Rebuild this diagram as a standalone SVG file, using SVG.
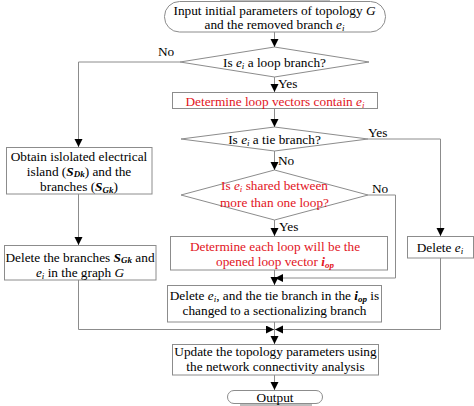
<svg xmlns="http://www.w3.org/2000/svg" width="474" height="406" viewBox="0 0 474 406">
<defs>
<marker id="ah" markerUnits="userSpaceOnUse" markerWidth="9" markerHeight="9" refX="8" refY="4" orient="auto">
<path d="M0,0 L8,4 L0,8 z" fill="#000"/>
</marker>
<style>
.s{fill:#fff;stroke:#8c8c8c;stroke-width:1}
.c{fill:none;stroke:#8c8c8c;stroke-width:1;marker-end:url(#ah)}
text{font-family:"Liberation Serif","Times New Roman",serif;font-size:13.3px;fill:#000;text-anchor:middle}
.r{fill:#e2141c}
.lab{text-anchor:start}
.it{font-style:italic}
.bi{font-style:italic;font-weight:bold}
.sb{font-size:9px}
</style>
</defs>
<rect width="474" height="406" fill="#fff"/>
<g id="start">
<rect x="220" y="0" width="110" height="2" fill="#bdbdbd"/>
<rect class="s" x="164.5" y="1.5" width="221" height="30.5" rx="15"/>
<text x="274.5" y="14.5">Input initial parameters of topology <tspan class="it">G</tspan></text>
<text x="274.5" y="29">and the removed branch <tspan class="it">e</tspan><tspan class="it sb" dy="2">i</tspan></text>
</g>
<g id="d1">
<polygon class="s" points="180,62 274.5,47 369,62 274.5,77"/>
<text x="274.5" y="66.5">Is <tspan class="it">e</tspan><tspan class="it sb" dy="2">i</tspan><tspan dy="-2"> a loop branch?</tspan></text>
</g>
<g id="b1">
<rect class="s" x="172.5" y="92.5" width="205" height="16"/>
<text class="r" x="275" y="105.5">Determine loop vectors  contain <tspan class="it">e</tspan><tspan class="it sb" dy="2">i</tspan></text>
</g>
<g id="d2">
<polygon class="s" points="181,139 274.5,127 368,139 274.5,151"/>
<text x="274.5" y="143.5">Is <tspan class="it">e</tspan><tspan class="it sb" dy="2">i</tspan><tspan dy="-2"> a tie branch?</tspan></text>
</g>
<g id="d3">
<polygon class="s" points="181,195 274.5,170 368,195 274.5,220"/>
<text class="r" x="274.5" y="190">Is <tspan class="it">e</tspan><tspan class="it sb" dy="1.5">i</tspan><tspan dy="-1.5"> shared between</tspan></text>
<text class="r" x="274.5" y="206.5">more than one loop?</text>
</g>
<g id="b2">
<rect class="s" x="170.5" y="236.5" width="217" height="33.5"/>
<text class="r" x="275" y="250.5">Determine each loop will be the</text>
<text class="r" x="275" y="266">opened loop vector <tspan class="bi">i</tspan><tspan class="bi sb" dy="2">op</tspan></text>
</g>
<g id="del">
<rect class="s" x="407.5" y="236.5" width="66" height="21.5"/>
<text x="440" y="251.5">Delete <tspan class="it">e</tspan><tspan class="it sb" dy="2">i</tspan></text>
</g>
<g id="b3">
<rect class="s" x="167.5" y="285.5" width="214" height="36.5"/>
<text x="274.5" y="299.5">Delete <tspan class="it">e</tspan><tspan class="it sb" dy="2">i</tspan><tspan dy="-2">, and the tie branch in the </tspan><tspan class="bi">i</tspan><tspan class="bi sb" dy="2">op</tspan><tspan dy="-2"> is</tspan></text>
<text x="274.5" y="315">changed to a sectionalizing branch</text>
</g>
<g id="b4">
<rect class="s" x="172.5" y="344.5" width="206" height="30.5"/>
<text x="275.5" y="356">Update the topology parameters using</text>
<text x="275.5" y="371">the network connectivity analysis</text>
</g>
<g id="out">
<rect x="240" y="403" width="72" height="3" fill="#bdbdbd"/>
<rect class="s" x="227.5" y="390.5" width="95" height="13" rx="6.5"/>
<text x="275" y="401.5">Output</text>
</g>
<g id="l1">
<rect class="s" x="6.5" y="147.5" width="145.5" height="46.5"/>
<text x="79" y="160.5">Obtain islolated electrical</text>
<text x="79" y="175.5">island (<tspan class="bi">S</tspan><tspan class="bi sb" dy="1.5">Dk</tspan><tspan dy="-1.5">) and the</tspan></text>
<text x="79" y="191">branches  (<tspan class="bi">S</tspan><tspan class="bi sb" dy="1.5">Gk</tspan><tspan dy="-1.5">)</tspan></text>
</g>
<g id="l2">
<rect class="s" x="4.5" y="245.5" width="151.5" height="34.5"/>
<text x="80" y="261.5">Delete the branches <tspan class="bi">S</tspan><tspan class="bi sb" dy="1.5">Gk</tspan><tspan dy="-1.5"> and</tspan></text>
<text x="80" y="276.5"><tspan class="it">e</tspan><tspan class="it sb" dy="2">i</tspan><tspan dy="-2"> in the graph </tspan><tspan class="it">G</tspan></text>
</g>
<g id="connectors">
<path class="c" d="M274.5,32 V47"/>
<path class="c" d="M180,62 H78.5 V147"/>
<path class="c" d="M274.5,77 V92"/>
<path class="c" d="M274.5,108.5 V127"/>
<path class="c" d="M368,139 H440.5 V236"/>
<path class="c" d="M274.5,151 V170"/>
<path class="c" d="M274.5,220 V236"/>
<path class="c" d="M368,195 H395.5 V278 H275"/>
<path class="c" d="M274.5,270 V285"/>
<path class="c" d="M78.5,194 V245"/>
<path class="c" d="M78.5,280 V329.5 H274"/>
<path class="c" d="M440.5,258 V329.5 H275"/>
<path class="c" d="M274.5,322 V344"/>
<path class="c" d="M274.5,375 V390"/>
<text class="lab" x="158" y="56">No</text>
<text class="lab" x="278" y="88">Yes</text>
<text class="lab" x="368" y="137">Yes</text>
<text class="lab" x="278" y="165">No</text>
<text class="lab" x="372" y="193">No</text>
<text class="lab" x="279" y="231">Yes</text>
</g>
</svg>
